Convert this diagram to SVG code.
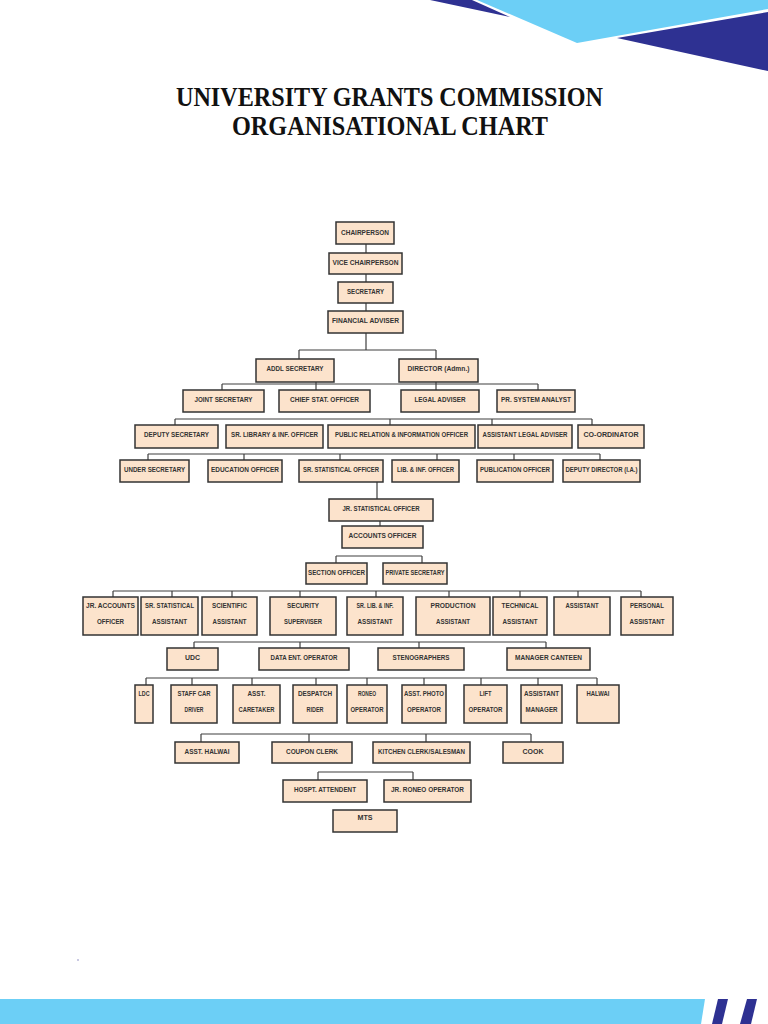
<svg xmlns="http://www.w3.org/2000/svg" width="768" height="1024" viewBox="0 0 768 1024">
<style>
.b{fill:#fce3cc;stroke:#333333;stroke-width:1.5}
.t{font-family:"Liberation Sans",Arial,sans-serif;font-size:8px;font-weight:bold;fill:#333333;text-anchor:middle}
.s7{font-size:7px}
.s65{font-size:6.5px}
.c{fill:none;stroke:#3f3f3f;stroke-width:1.2}
.ttl{font-family:"Liberation Serif","Times New Roman",serif;font-size:27px;font-weight:bold;fill:#111;text-anchor:middle}
</style>
<rect width="768" height="1024" fill="#ffffff"/>
<g id="decor">
<polygon points="430,0 472,0 510,17" fill="#2e3192"/>
<polygon points="477,0 768,0 768,9 577,43" fill="#6ccff6"/>
<polygon points="617,38 768,12 768,71" fill="#2e3192"/>
<polygon points="0,999 705,999 701,1024 0,1024" fill="#6ccff6"/>
<polygon points="718,999 728,999 722,1024 712,1024" fill="#2e3192"/>
<polygon points="747,999 757,999 751,1024 740,1024" fill="#2e3192"/>
<circle cx="78" cy="960" r="0.7" fill="#6a6ab0"/>
</g>
<g id="title">
<text class="ttl" x="389.5" y="106" textLength="427" lengthAdjust="spacingAndGlyphs">UNIVERSITY GRANTS COMMISSION</text>
<text class="ttl" x="390" y="135" textLength="316" lengthAdjust="spacingAndGlyphs">ORGANISATIONAL CHART</text>
</g>
<g id="connectors" class="c">
<path d="M366,244V350M299,350H436M299,350V359M436,350V359"/>
<path d="M222,384H538M222,384V390M316,382V390M436,382V390M538,384V390"/>
<path d="M175,419H592M175,419V425M390,419V425M492,419V425M592,419V425"/>
<path d="M148,454H600M148,454V460M244,454V460M340,454V460M437,454V460M514,454V460M600,454V460"/>
<path d="M377,482V499M380,521V526"/>
<path d="M336,556H422M336,556V563M422,556V563"/>
<path d="M113,591H641M113,591V597M172,591V597M232,591V597M300,591V597M376,591V597M449,591V597M520,591V597M578,591V597M641,591V597"/>
<path d="M194,642H546M194,642V648M300,642V648M419,642V648M546,642V648"/>
<path d="M146,678H597M146,678V685M192,678V685M252,678V685M316,678V685M367,678V685M424,678V685M481,678V685M538,678V685M597,678V685"/>
<path d="M201,734H531M201,734V742M309,734V742M426,734V742M531,734V742"/>
<path d="M318,772H413M318,772V780M413,772V780"/>
</g>
<g id="n-chairperson"><rect class="b" x="336" y="222" width="58" height="22"/><text class="t" x="365" y="234.5" textLength="48" lengthAdjust="spacingAndGlyphs">CHAIRPERSON</text></g>
<g id="n-vice-chairperson"><rect class="b" x="329" y="253" width="73" height="21"/><text class="t" x="365.5" y="265" textLength="66" lengthAdjust="spacingAndGlyphs">VICE CHAIRPERSON</text></g>
<g id="n-secretary"><rect class="b" x="338" y="282" width="55" height="21"/><text class="t" x="365.5" y="294" textLength="37" lengthAdjust="spacingAndGlyphs">SECRETARY</text></g>
<g id="n-financial-adviser"><rect class="b" x="328" y="311" width="75" height="22"/><text class="t" x="365.5" y="323" textLength="67" lengthAdjust="spacingAndGlyphs">FINANCIAL ADVISER</text></g>
<g id="n-addl-secretary"><rect class="b" x="256" y="359" width="78" height="23"/><text class="t" x="295" y="371" textLength="57" lengthAdjust="spacingAndGlyphs">ADDL SECRETARY</text></g>
<g id="n-director-admn"><rect class="b" x="399" y="359" width="79" height="23"/><text class="t" x="438.5" y="371" textLength="62" lengthAdjust="spacingAndGlyphs">DIRECTOR (Admn.)</text></g>
<g id="n-joint-secretary"><rect class="b" x="183" y="390" width="81" height="22"/><text class="t" x="223.5" y="402" textLength="58" lengthAdjust="spacingAndGlyphs">JOINT SECRETARY</text></g>
<g id="n-chief-stat-officer"><rect class="b" x="279" y="390" width="91" height="22"/><text class="t" x="324.5" y="402" textLength="69" lengthAdjust="spacingAndGlyphs">CHIEF STAT. OFFICER</text></g>
<g id="n-legal-adviser"><rect class="b" x="401" y="390" width="78" height="22"/><text class="t" x="440" y="402" textLength="51" lengthAdjust="spacingAndGlyphs">LEGAL ADVISER</text></g>
<g id="n-pr-system-analyst"><rect class="b" x="497" y="390" width="78" height="22"/><text class="t s7" x="536" y="402" textLength="70" lengthAdjust="spacingAndGlyphs">PR. SYSTEM ANALYST</text></g>
<g id="n-deputy-secretary"><rect class="b" x="135" y="425" width="83" height="23"/><text class="t" x="176.5" y="437" textLength="65" lengthAdjust="spacingAndGlyphs">DEPUTY SECRETARY</text></g>
<g id="n-sr-library-inf-officer"><rect class="b" x="226" y="425" width="97" height="23"/><text class="t s65" x="274.5" y="437" textLength="87" lengthAdjust="spacingAndGlyphs">SR. LIBRARY &amp; INF. OFFICER</text></g>
<g id="n-public-relation"><rect class="b" x="328" y="425" width="147" height="23"/><text class="t s65" x="401.5" y="437" textLength="133" lengthAdjust="spacingAndGlyphs">PUBLIC RELATION &amp; INFORMATION OFFICER</text></g>
<g id="n-assistant-legal-adviser"><rect class="b" x="478" y="425" width="94" height="23"/><text class="t s65" x="525" y="437" textLength="85" lengthAdjust="spacingAndGlyphs">ASSISTANT LEGAL ADVISER</text></g>
<g id="n-co-ordinator"><rect class="b" x="578" y="425" width="66" height="23"/><text class="t" x="611" y="437" textLength="55" lengthAdjust="spacingAndGlyphs">CO-ORDINATOR</text></g>
<g id="n-under-secretary"><rect class="b" x="120" y="460" width="69" height="22"/><text class="t s7" x="154.5" y="472" textLength="61" lengthAdjust="spacingAndGlyphs">UNDER SECRETARY</text></g>
<g id="n-education-officer"><rect class="b" x="208" y="460" width="74" height="22"/><text class="t s7" x="245" y="472" textLength="68" lengthAdjust="spacingAndGlyphs">EDUCATION OFFICER</text></g>
<g id="n-sr-statistical-officer"><rect class="b" x="299" y="460" width="84" height="22"/><text class="t s65" x="341" y="472" textLength="76" lengthAdjust="spacingAndGlyphs">SR. STATISTICAL OFFICER</text></g>
<g id="n-lib-inf-officer"><rect class="b" x="392" y="460" width="67" height="22"/><text class="t s65" x="425.5" y="472" textLength="57" lengthAdjust="spacingAndGlyphs">LIB. &amp; INF. OFFICER</text></g>
<g id="n-publication-officer"><rect class="b" x="477" y="460" width="76" height="22"/><text class="t s65" x="515" y="472" textLength="70" lengthAdjust="spacingAndGlyphs">PUBLICATION OFFICER</text></g>
<g id="n-deputy-director-ia"><rect class="b" x="563" y="460" width="77" height="22"/><text class="t s65" x="601.5" y="472" textLength="72" lengthAdjust="spacingAndGlyphs">DEPUTY DIRECTOR (I.A.)</text></g>
<g id="n-jr-statistical-officer"><rect class="b" x="329" y="499" width="104" height="22"/><text class="t" x="381" y="511" textLength="77" lengthAdjust="spacingAndGlyphs">JR. STATISTICAL OFFICER</text></g>
<g id="n-accounts-officer"><rect class="b" x="342" y="526" width="81" height="22"/><text class="t" x="382.5" y="538" textLength="68" lengthAdjust="spacingAndGlyphs">ACCOUNTS OFFICER</text></g>
<g id="n-section-officer"><rect class="b" x="306" y="563" width="61" height="21"/><text class="t s65" x="336.5" y="575" textLength="57" lengthAdjust="spacingAndGlyphs">SECTION OFFICER</text></g>
<g id="n-private-secretary"><rect class="b" x="383" y="563" width="64" height="21"/><text class="t s65" x="415" y="575" textLength="59" lengthAdjust="spacingAndGlyphs">PRIVATE SECRETARY</text></g>
<g id="n-jr-accounts-officer"><rect class="b" x="83" y="597" width="55" height="38"/><text class="t s7" x="110.5" y="608" textLength="49" lengthAdjust="spacingAndGlyphs">JR. ACCOUNTS</text><text class="t" x="110.5" y="624" textLength="27" lengthAdjust="spacingAndGlyphs">OFFICER</text></g>
<g id="n-sr-statistical-assistant"><rect class="b" x="141" y="597" width="57" height="38"/><text class="t s65" x="169.5" y="608" textLength="49" lengthAdjust="spacingAndGlyphs">SR. STATISTICAL</text><text class="t" x="169.5" y="624" textLength="35" lengthAdjust="spacingAndGlyphs">ASSISTANT</text></g>
<g id="n-scientific-assistant"><rect class="b" x="202" y="597" width="55" height="38"/><text class="t" x="229.5" y="608" textLength="35" lengthAdjust="spacingAndGlyphs">SCIENTIFIC</text><text class="t" x="229.5" y="624" textLength="34" lengthAdjust="spacingAndGlyphs">ASSISTANT</text></g>
<g id="n-security-superviser"><rect class="b" x="270" y="597" width="66" height="38"/><text class="t" x="303" y="608" textLength="32" lengthAdjust="spacingAndGlyphs">SECURITY</text><text class="t" x="303" y="624" textLength="38" lengthAdjust="spacingAndGlyphs">SUPERVISER</text></g>
<g id="n-sr-lib-inf-assistant"><rect class="b" x="347" y="597" width="56" height="38"/><text class="t s7" x="375" y="608" textLength="37" lengthAdjust="spacingAndGlyphs">SR. LIB. &amp; INF.</text><text class="t" x="375" y="624" textLength="35" lengthAdjust="spacingAndGlyphs">ASSISTANT</text></g>
<g id="n-production-assistant"><rect class="b" x="416" y="597" width="74" height="38"/><text class="t" x="453" y="608" textLength="45" lengthAdjust="spacingAndGlyphs">PRODUCTION</text><text class="t" x="453" y="624" textLength="34" lengthAdjust="spacingAndGlyphs">ASSISTANT</text></g>
<g id="n-technical-assistant"><rect class="b" x="493" y="597" width="54" height="38"/><text class="t" x="520" y="608" textLength="37" lengthAdjust="spacingAndGlyphs">TECHNICAL</text><text class="t" x="520" y="624" textLength="35" lengthAdjust="spacingAndGlyphs">ASSISTANT</text></g>
<g id="n-assistant"><rect class="b" x="554" y="597" width="56" height="38"/><text class="t" x="582" y="608" textLength="33" lengthAdjust="spacingAndGlyphs">ASSISTANT</text></g>
<g id="n-personal-assistant"><rect class="b" x="621" y="597" width="52" height="38"/><text class="t" x="647" y="608" textLength="34" lengthAdjust="spacingAndGlyphs">PERSONAL</text><text class="t" x="647" y="624" textLength="35" lengthAdjust="spacingAndGlyphs">ASSISTANT</text></g>
<g id="n-udc"><rect class="b" x="167" y="648" width="51" height="22"/><text class="t" x="192.5" y="660" textLength="15" lengthAdjust="spacingAndGlyphs">UDC</text></g>
<g id="n-data-ent-operator"><rect class="b" x="259" y="648" width="90" height="22"/><text class="t" x="304" y="660" textLength="67" lengthAdjust="spacingAndGlyphs">DATA ENT. OPERATOR</text></g>
<g id="n-stenographers"><rect class="b" x="378" y="648" width="86" height="22"/><text class="t" x="421" y="660" textLength="57" lengthAdjust="spacingAndGlyphs">STENOGRAPHERS</text></g>
<g id="n-manager-canteen"><rect class="b" x="507" y="648" width="83" height="22"/><text class="t" x="548.5" y="660" textLength="67" lengthAdjust="spacingAndGlyphs">MANAGER CANTEEN</text></g>
<g id="n-ldc"><rect class="b" x="135" y="685" width="18" height="38"/><text class="t s65" x="144" y="696" textLength="11" lengthAdjust="spacingAndGlyphs">LDC</text></g>
<g id="n-staff-car-driver"><rect class="b" x="171" y="685" width="46" height="38"/><text class="t" x="194" y="696" textLength="33" lengthAdjust="spacingAndGlyphs">STAFF CAR</text><text class="t" x="194" y="712" textLength="19" lengthAdjust="spacingAndGlyphs">DRIVER</text></g>
<g id="n-asst-caretaker"><rect class="b" x="233" y="685" width="47" height="38"/><text class="t" x="256.5" y="696" textLength="18" lengthAdjust="spacingAndGlyphs">ASST.</text><text class="t" x="256.5" y="712" textLength="36" lengthAdjust="spacingAndGlyphs">CARETAKER</text></g>
<g id="n-despatch-rider"><rect class="b" x="293" y="685" width="44" height="38"/><text class="t" x="315" y="696" textLength="34" lengthAdjust="spacingAndGlyphs">DESPATCH</text><text class="t" x="315" y="712" textLength="17" lengthAdjust="spacingAndGlyphs">RIDER</text></g>
<g id="n-roneo-operator"><rect class="b" x="347" y="685" width="40" height="38"/><text class="t" x="367" y="696" textLength="18" lengthAdjust="spacingAndGlyphs">RONEO</text><text class="t s7" x="367" y="712" textLength="33" lengthAdjust="spacingAndGlyphs">OPERATOR</text></g>
<g id="n-asst-photo-operator"><rect class="b" x="402" y="685" width="44" height="38"/><text class="t s7" x="424" y="696" textLength="40" lengthAdjust="spacingAndGlyphs">ASST. PHOTO</text><text class="t s7" x="424" y="712" textLength="34" lengthAdjust="spacingAndGlyphs">OPERATOR</text></g>
<g id="n-lift-operator"><rect class="b" x="464" y="685" width="43" height="38"/><text class="t" x="485.5" y="696" textLength="12" lengthAdjust="spacingAndGlyphs">LIFT</text><text class="t s7" x="485.5" y="712" textLength="34" lengthAdjust="spacingAndGlyphs">OPERATOR</text></g>
<g id="n-assistant-manager"><rect class="b" x="521" y="685" width="41" height="38"/><text class="t s7" x="541.5" y="696" textLength="35" lengthAdjust="spacingAndGlyphs">ASSISTANT</text><text class="t" x="541.5" y="712" textLength="32" lengthAdjust="spacingAndGlyphs">MANAGER</text></g>
<g id="n-halwai"><rect class="b" x="577" y="685" width="42" height="38"/><text class="t" x="598" y="696" textLength="23" lengthAdjust="spacingAndGlyphs">HALWAI</text></g>
<g id="n-asst-halwai"><rect class="b" x="175" y="742" width="64" height="21"/><text class="t" x="207" y="754" textLength="45" lengthAdjust="spacingAndGlyphs">ASST. HALWAI</text></g>
<g id="n-coupon-clerk"><rect class="b" x="272" y="742" width="80" height="21"/><text class="t" x="312" y="754" textLength="52" lengthAdjust="spacingAndGlyphs">COUPON CLERK</text></g>
<g id="n-kitchen-clerk-salesman"><rect class="b" x="373" y="742" width="97" height="21"/><text class="t s65" x="421.5" y="754" textLength="87" lengthAdjust="spacingAndGlyphs">KITCHEN CLERK/SALESMAN</text></g>
<g id="n-cook"><rect class="b" x="503" y="742" width="60" height="21"/><text class="t" x="533" y="754" textLength="21" lengthAdjust="spacingAndGlyphs">COOK</text></g>
<g id="n-hospt-attendent"><rect class="b" x="283" y="780" width="84" height="22"/><text class="t" x="325" y="792" textLength="62" lengthAdjust="spacingAndGlyphs">HOSPT. ATTENDENT</text></g>
<g id="n-jr-roneo-operator"><rect class="b" x="384" y="780" width="87" height="22"/><text class="t" x="427.5" y="792" textLength="73" lengthAdjust="spacingAndGlyphs">JR. RONEO OPERATOR</text></g>
<g id="n-mts"><rect class="b" x="333" y="810" width="64" height="22"/><text class="t" x="365" y="820" textLength="15" lengthAdjust="spacingAndGlyphs">MTS</text></g>
</svg>
